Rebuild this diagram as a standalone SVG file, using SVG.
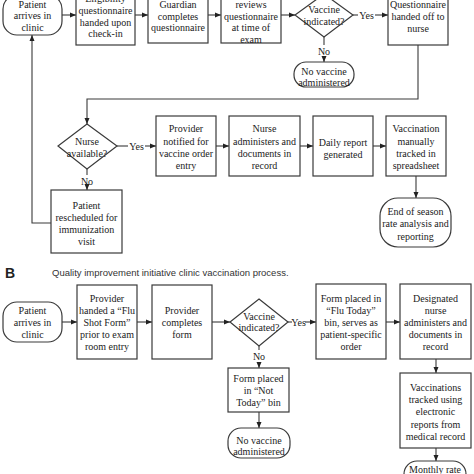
<svg xmlns="http://www.w3.org/2000/svg" width="474" height="474" viewBox="0 0 474 474">
<style>
.s{fill:#fff;stroke:#3a3a3a;stroke-width:1.2}
.c{fill:none;stroke:#3a3a3a;stroke-width:1.1}
.t{font-family:"Liberation Serif","Times New Roman",serif;font-size:10px;fill:#222;text-anchor:middle}
.l{font-family:"Liberation Serif","Times New Roman",serif;font-size:10px;fill:#222;text-anchor:middle}
</style>
<defs>
<marker id="a" viewBox="0 0 6 6" refX="6" refY="3" markerWidth="6" markerHeight="6" markerUnits="userSpaceOnUse" orient="auto">
<path d="M0,0.5 L6,3 L0,5.5 Z" fill="#222"/>
</marker>
</defs>
<rect width="474" height="474" fill="#fff"/>

<g id="connectors">
<path class="c" marker-end="url(#a)" d="M62 15 H76"/>
<path class="c" marker-end="url(#a)" d="M135 15 H148"/>
<path class="c" marker-end="url(#a)" d="M208 15 H221"/>
<path class="c" marker-end="url(#a)" d="M281 15 H295"/>
<path class="c" d="M353 15 H358"/>
<path class="c" marker-end="url(#a)" d="M375 15 H388"/>
<path class="c" d="M324 37 V45"/>
<path class="c" marker-end="url(#a)" d="M324 56 V62"/>
<path class="c" marker-end="url(#a)" d="M418 45 V99 H87 V124"/>
<path class="c" d="M117 146 H128"/>
<path class="c" marker-end="url(#a)" d="M145 146 H156"/>
<path class="c" marker-end="url(#a)" d="M216 146 H229"/>
<path class="c" marker-end="url(#a)" d="M300 146 H313"/>
<path class="c" marker-end="url(#a)" d="M373 146 H386"/>
<path class="c" marker-end="url(#a)" d="M416 176 V198"/>
<path class="c" d="M87 169 V175"/>
<path class="c" marker-end="url(#a)" d="M87 187 V190"/>
<path class="c" marker-end="url(#a)" d="M51 223 H32 V35"/>

<path class="c" marker-end="url(#a)" d="M62 322 H77"/>
<path class="c" marker-end="url(#a)" d="M137 322 H152"/>
<path class="c" marker-end="url(#a)" d="M212 322 H230"/>
<path class="c" d="M288 322 H292"/>
<path class="c" marker-end="url(#a)" d="M305 322 H316"/>
<path class="c" marker-end="url(#a)" d="M386 322 H400"/>
<path class="c" d="M259 346 V350"/>
<path class="c" marker-end="url(#a)" d="M259 362 V368"/>
<path class="c" marker-end="url(#a)" d="M259 412 V428"/>
<path class="c" marker-end="url(#a)" d="M436 359 V373"/>
<path class="c" marker-end="url(#a)" d="M436 448 V461"/>
</g>

<g id="labels">
<text class="l" x="366.5" y="18.5">Yes</text>
<text class="l" x="324" y="54.5">No</text>
<text class="l" x="136.5" y="149.5">Yes</text>
<text class="l" x="87" y="184.5">No</text>
<text class="l" x="298.5" y="325.5">Yes</text>
<text class="l" x="259" y="359.5">No</text>
</g>

<g id="a1"><rect class="s" x="3" y="-5" width="59" height="40" rx="14"/>
<text class="t"><tspan x="32.5" y="7.5">Patient</tspan><tspan x="32.5" y="19">arrives in</tspan><tspan x="32.5" y="31">clinic</tspan></text></g>
<g id="a2"><rect class="s" x="76" y="-25" width="59" height="70"/>
<text class="t"><tspan x="105.5" y="1.5">Eligibility</tspan><tspan x="105.5" y="13.5">questionnaire</tspan><tspan x="105.5" y="25.5">handed upon</tspan><tspan x="105.5" y="37">check-in</tspan></text></g>
<g id="a3"><rect class="s" x="148" y="-25" width="60" height="68"/>
<text class="t"><tspan x="178" y="7.5">Guardian</tspan><tspan x="178" y="19.5">completes</tspan><tspan x="178" y="31">questionnaire</tspan></text></g>
<g id="a4"><rect class="s" x="221" y="-25" width="60" height="68"/>
<text class="t"><tspan x="251" y="7.5">reviews</tspan><tspan x="251" y="19.5">questionnaire</tspan><tspan x="251" y="31">at time of</tspan><tspan x="251" y="42.5">exam</tspan></text></g>
<g id="a5"><path class="s" d="M324 -6 L353 15 L324 37 L295 15 Z"/>
<text class="t"><tspan x="324" y="13">Vaccine</tspan><tspan x="324" y="25">indicated?</tspan></text></g>
<g id="a6"><rect class="s" x="388" y="-25" width="60" height="70"/>
<text class="t"><tspan x="418" y="7.5">Questionnaire</tspan><tspan x="418" y="19.5">handed off to</tspan><tspan x="418" y="31.5">nurse</tspan></text></g>
<g id="a7"><rect class="s" x="294" y="62" width="60" height="25" rx="12"/>
<text class="t"><tspan x="324" y="75">No vaccine</tspan><tspan x="324" y="86">administered</tspan></text></g>

<g id="a8"><path class="s" d="M87 124 L117 146 L87 169 L58 146 Z"/>
<text class="t"><tspan x="87" y="145">Nurse</tspan><tspan x="87" y="156.5">available?</tspan></text></g>
<g id="a9"><rect class="s" x="156" y="116" width="60" height="60"/>
<text class="t"><tspan x="186" y="131.5">Provider</tspan><tspan x="186" y="144.5">notified for</tspan><tspan x="186" y="156.5">vaccine order</tspan><tspan x="186" y="168.5">entry</tspan></text></g>
<g id="a10"><rect class="s" x="229" y="116" width="71" height="60"/>
<text class="t"><tspan x="264.5" y="131.5">Nurse</tspan><tspan x="264.5" y="144.5">administers and</tspan><tspan x="264.5" y="156.5">documents in</tspan><tspan x="264.5" y="168.5">record</tspan></text></g>
<g id="a11"><rect class="s" x="313" y="116" width="60" height="60"/>
<text class="t"><tspan x="343" y="145.5">Daily report</tspan><tspan x="343" y="157.5">generated</tspan></text></g>
<g id="a12"><rect class="s" x="386" y="116" width="60" height="60"/>
<text class="t"><tspan x="416" y="131.5">Vaccination</tspan><tspan x="416" y="144.5">manually</tspan><tspan x="416" y="156.5">tracked in</tspan><tspan x="416" y="168.5">spreadsheet</tspan></text></g>
<g id="a13"><rect class="s" x="380" y="198" width="71" height="49" rx="18"/>
<text class="t"><tspan x="415.5" y="214.5">End of season</tspan><tspan x="415.5" y="226.5">rate analysis and</tspan><tspan x="415.5" y="239.5">reporting</tspan></text></g>
<g id="a14"><rect class="s" x="51" y="190" width="71" height="63"/>
<text class="t"><tspan x="86.5" y="208.5">Patient</tspan><tspan x="86.5" y="220.5">rescheduled for</tspan><tspan x="86.5" y="232.5">immunization</tspan><tspan x="86.5" y="245">visit</tspan></text></g>

<g id="panelB-title">
<text x="5" y="278" font-family="Liberation Sans,Arial,sans-serif" font-size="14" font-weight="bold" fill="#222">B</text>
<text x="52" y="276" font-family="Liberation Sans,Arial,sans-serif" font-size="9.5" fill="#333">Quality improvement initiative clinic vaccination process.</text>
</g>

<g id="b1"><rect class="s" x="3" y="302" width="59" height="40" rx="14"/>
<text class="t"><tspan x="32.5" y="313.5">Patient</tspan><tspan x="32.5" y="325.5">arrives in</tspan><tspan x="32.5" y="337.5">clinic</tspan></text></g>
<g id="b2"><rect class="s" x="77" y="285" width="60" height="74"/>
<text class="t"><tspan x="107" y="301.5">Provider</tspan><tspan x="107" y="313.5">handed a “Flu</tspan><tspan x="107" y="325.5">Shot Form”</tspan><tspan x="107" y="337.5">prior to exam</tspan><tspan x="107" y="349.5">room entry</tspan></text></g>
<g id="b3"><rect class="s" x="152" y="285" width="60" height="74"/>
<text class="t"><tspan x="182" y="313.5">Provider</tspan><tspan x="182" y="325.5">completes</tspan><tspan x="182" y="337.5">form</tspan></text></g>
<g id="b4"><path class="s" d="M259 299 L288 322 L259 346 L230 322 Z"/>
<text class="t"><tspan x="259" y="319.5">Vaccine</tspan><tspan x="259" y="330.5">indicated?</tspan></text></g>
<g id="b5"><rect class="s" x="316" y="284" width="70" height="75"/>
<text class="t"><tspan x="351" y="301.5">Form placed in</tspan><tspan x="351" y="313.5">“Flu Today”</tspan><tspan x="351" y="325.5">bin, serves as</tspan><tspan x="351" y="337.5">patient-specific</tspan><tspan x="351" y="349.5">order</tspan></text></g>
<g id="b6"><rect class="s" x="400" y="284" width="71" height="75"/>
<text class="t"><tspan x="435.5" y="301.5">Designated</tspan><tspan x="435.5" y="313.5">nurse</tspan><tspan x="435.5" y="325.5">administers and</tspan><tspan x="435.5" y="337.5">documents in</tspan><tspan x="435.5" y="349.5">record</tspan></text></g>
<g id="b7"><rect class="s" x="228" y="368" width="61" height="44"/>
<text class="t"><tspan x="258.5" y="381.5">Form placed</tspan><tspan x="258.5" y="393.5">in “Not</tspan><tspan x="258.5" y="405.5">Today” bin</tspan></text></g>
<g id="b8"><rect class="s" x="228" y="428" width="62" height="30" rx="13"/>
<text class="t"><tspan x="259" y="443.5">No vaccine</tspan><tspan x="259" y="455">administered</tspan></text></g>
<g id="b9"><rect class="s" x="400" y="373" width="71" height="75"/>
<text class="t"><tspan x="435.5" y="390.5">Vaccinations</tspan><tspan x="435.5" y="402.5">tracked using</tspan><tspan x="435.5" y="415">electronic</tspan><tspan x="435.5" y="427.5">reports from</tspan><tspan x="435.5" y="439.5">medical record</tspan></text></g>
<g id="b10"><rect class="s" x="404" y="461" width="62" height="34" rx="13"/>
<text class="t"><tspan x="435" y="472.5">Monthly rate</tspan></text></g>
</svg>
